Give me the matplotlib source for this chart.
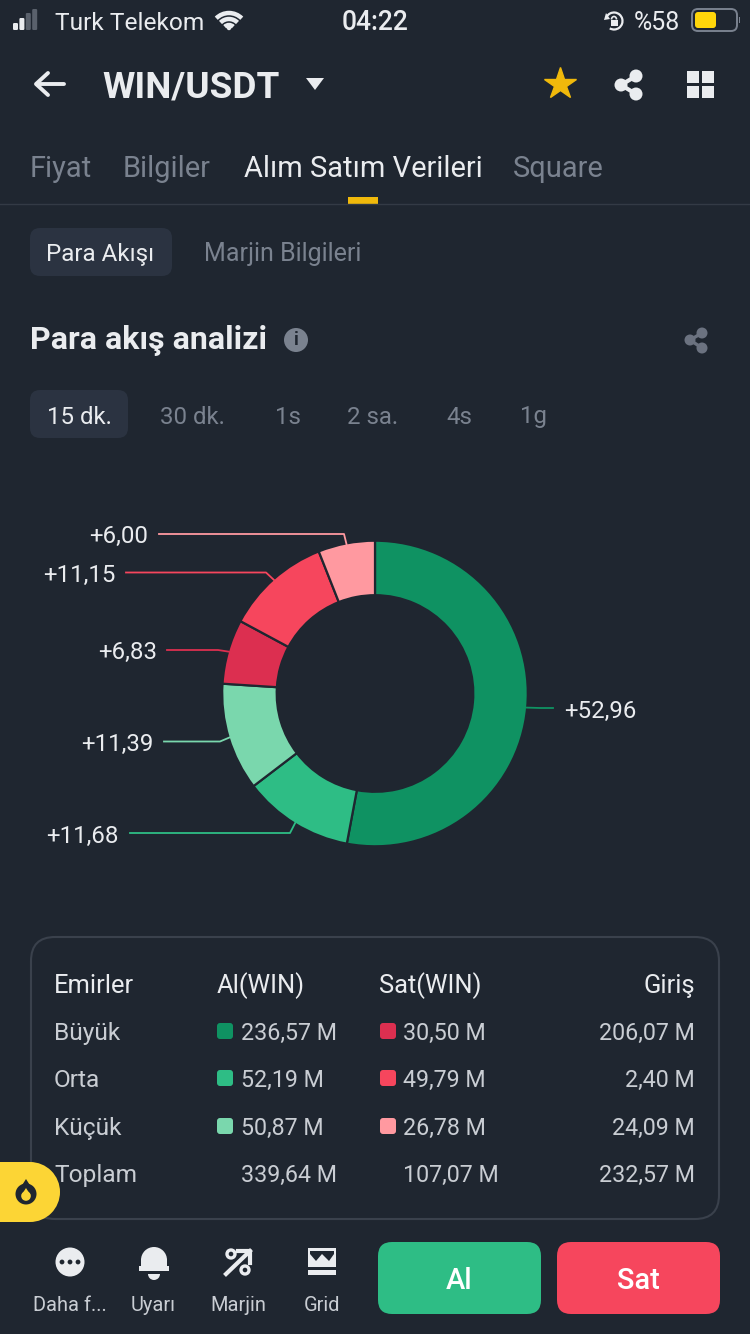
import matplotlib.pyplot as plt
import numpy as np
from matplotlib.patches import Circle, FancyBboxPatch, Polygon, Rectangle, Wedge, Arc

BG = "#1F2630"
WHITE = "#EAECEF"
GREY = "#7A828F"
YELLOW = "#FCD535"

flow_labels = ["+52,96", "+11,68", "+11,39", "+6,83", "+11,15", "+6,00"]
flow_values = [52.96, 11.68, 11.39, 6.83, 11.15, 6.00]
flow_colors = ["#0F9262", "#2EBD85", "#7AD7AD", "#DC2F50", "#F6465D", "#FF99A0"]

# leader line layout: elbow x, end x, line y, label right edge (pixels)
leader_elbow = [540, 290, 220, 218, 266, 344]
leader_end = [553, 130, 164, 167, 126, 159]
leader_y = [708, 833, 741.5, 650, 572.5, 534]
label_x = [564, 119, 154, 157, 116, 148]
label_base = [718, 843, 751, 659, 582, 543]

tabs = ["Fiyat", "Bilgiler", "Alım Satım Verileri", "Square"]
tab_x = [30, 123, 244, 513]
periods = ["15 dk.", "30 dk.", "1s", "2 sa.", "4s", "1g"]
period_x = [47, 160, 275, 347, 446, 520]

table_head = ["Emirler", "Al(WIN)", "Sat(WIN)", "Giriş"]
row_names = ["Büyük", "Orta", "Küçük", "Toplam"]
buy_vals = ["236,57 M", "52,19 M", "50,87 M", "339,64 M"]
sell_vals = ["30,50 M", "49,79 M", "26,78 M", "107,07 M"]
net_vals = ["206,07 M", "2,40 M", "24,09 M", "232,57 M"]
row_base = [1040, 1087, 1135, 1182]
buy_swatch = ["#0F9262", "#2EBD85", "#7AD7AD"]
sell_swatch = ["#DC2F50", "#F6465D", "#FF99A0"]

nav_labels = ["Daha f...", "Uyarı", "Marjin", "Grid"]
nav_x = [70, 153, 238, 322]

plt.rcParams["font.family"] = ["Roboto", "DejaVu Sans"]

fig = plt.figure(figsize=(7.5, 13.34), dpi=100, facecolor=BG)
ax = fig.add_axes([0, 0, 1, 1])


def label(x, y, s, size, color=WHITE, ha="left", weight="normal"):
    # size is the em size in pixels
    ax.text(x, y, s, fontsize=size * 0.72, color=color, ha=ha, va="baseline", fontweight=weight)


def round_box(x, y, w, h, r, **kw):
    ax.add_patch(FancyBboxPatch((x + r, y + r), w - 2 * r, h - 2 * r,
                                boxstyle=f"round,pad={r},rounding_size={r}", **kw))


# donut
ax.pie(flow_values, colors=flow_colors, center=(375, 693.5), radius=152.8, startangle=-90,
       counterclock=True, wedgeprops=dict(width=54.5, edgecolor=BG, linewidth=1.6))
ax.set_xlim(0, 750)
ax.set_ylim(1334, 0)
ax.set_aspect("auto")
ax.axis("off")

# leader lines start on the ring at each slice's middle
total = sum(flow_values)
mids = (np.cumsum(flow_values) - np.array(flow_values) / 2) / total * 2 * np.pi
for i, m in enumerate(mids):
    sx = 375 + 152 * np.sin(m)
    sy = 693.5 - 152 * np.cos(m)
    ax.plot([sx, leader_elbow[i], leader_end[i]], [sy, leader_y[i], leader_y[i]],
            color=flow_colors[i], lw=1.3, solid_joinstyle="round")
    label(label_x[i], label_base[i], flow_labels[i], 24, ha="left" if i == 0 else "right")

# status bar
for i, (h, c) in enumerate(zip([7, 12, 17, 21], [WHITE, WHITE, "#5A616C", "#5A616C"])):
    round_box(13 + i * 6.4, 30 - h, 5, h, 1.2, fc=c, ec="none")
label(55, 30, "Turk Telekom", 24.5, WHITE)
label(375.5, 30, "04:22", 26.5, WHITE, ha="center", weight="medium")
for r in (6, 12, 18):
    ax.add_patch(Arc((229, 31), r * 2, r * 2, theta1=225, theta2=315, color=WHITE, lw=3.2))
ax.add_patch(Circle((229, 28), 2.2, color=WHITE, lw=0))
ax.add_patch(Arc((614, 21), 17, 17, theta1=-150, theta2=120, color=WHITE, lw=1.6))
ax.add_patch(Polygon([(606, 13), (610, 19), (604, 20)], color=WHITE, lw=0))
ax.add_patch(Rectangle((610.5, 20), 7, 5.5, color=WHITE, lw=0))
ax.add_patch(Arc((614, 19.5), 5, 6, theta1=180, theta2=360, color=WHITE, lw=1.2))
label(634, 30, "%58", 25, WHITE)
round_box(692, 9, 45, 22, 6, fc="none", ec="#7A828F", lw=1.4)
round_box(695, 12, 21, 16, 3, fc="#FFD60A", ec="none")
ax.add_patch(Rectangle((738.5, 17), 1.5, 6, color="#7A828F", lw=0))

# header
ax.plot([37, 64], [84, 84], color=WHITE, lw=2.8, solid_capstyle="round")
ax.plot([48, 36, 48], [73, 84, 95], color=WHITE, lw=2.8, solid_capstyle="round", solid_joinstyle="round")
label(102, 98, "WIN/USDT", 37, WHITE, weight="bold")
ax.add_patch(Polygon([(306, 78), (324, 78), (315, 90)], color=WHITE, lw=0))
ax.plot([560], [84], marker="*", ms=24, color="#F0B90B", mew=1, mec="#F0B90B", ls="none")
sh = [(636, 76), (621, 85), (636, 94)]
ax.plot(*zip(*sh), color=WHITE, lw=3)
for p in sh:
    ax.add_patch(Circle(p, 6.5, color=WHITE, lw=0))
for x in (687, 702):
    for y in (71, 86):
        ax.add_patch(Rectangle((x, y), 11.5, 11.5, color=WHITE, lw=0))

# tabs
for i, (t, x) in enumerate(zip(tabs, tab_x)):
    label(x, 177, t, 29, WHITE if i == 2 else GREY)
ax.add_patch(Rectangle((348, 197), 30, 6.5, color="#F0B90B", lw=0))
ax.plot([0, 750], [203.5, 203.5], color="#333A45", lw=1)

# sub tabs
round_box(30, 228, 142, 48, 10, fc="#2B3341", ec="none")
label(46, 261, "Para Akışı", 24.3, WHITE)
label(204, 261, "Marjin Bilgileri", 25, GREY)

label(30, 349, "Para akış analizi", 32, WHITE, weight="bold")
ax.add_patch(Circle((296, 340), 12, color="#7A828F", lw=0))
ax.text(296, 340, "i", fontsize=13, color=BG, ha="center", va="center", fontweight="bold")
sh2 = [(702, 333), (690, 340), (702, 348)]
ax.plot(*zip(*sh2), color="#6B7280", lw=2.4)
for p in sh2:
    ax.add_patch(Circle(p, 5.5, color="#6B7280", lw=0))

# period buttons
round_box(30, 390, 98, 48, 10, fc="#2B3341", ec="none")
for i, (p, x) in enumerate(zip(periods, period_x)):
    label(x, 423.5, p, 24, WHITE if i == 0 else GREY)

# table
round_box(31, 937, 688, 282, 24, fc="none", ec="#3A414C", lw=1.5)
label(54, 993, table_head[0], 25.5, WHITE)
label(217, 993, table_head[1], 25.5, WHITE)
label(379, 993, table_head[2], 25.5, WHITE)
label(695, 993, table_head[3], 25.5, WHITE, ha="right")
for i, name in enumerate(row_names):
    y = row_base[i]
    label(54, y, name, 24.5, "#C9CDD3")
    label(241, y, buy_vals[i], 23.3, "#C9CDD3")
    label(403, y, sell_vals[i], 23.3, "#C9CDD3")
    label(695, y, net_vals[i], 23.3, "#C9CDD3", ha="right")
    if i < 3:
        round_box(217, y - 17, 16, 16, 3, fc=buy_swatch[i], ec="none")
        round_box(380, y - 17, 16, 16, 3, fc=sell_swatch[i], ec="none")

# floating badge
ax.add_patch(Rectangle((0, 1162), 30, 60, color=YELLOW, lw=0))
ax.add_patch(Circle((30, 1192), 30, color=YELLOW, lw=0))
ax.add_patch(Polygon([(26, 1179), (19, 1190), (33, 1190)], fc=BG, lw=0))
ax.add_patch(Circle((26, 1194), 10.5, fc=BG, lw=0))
ax.add_patch(Polygon([(26, 1188), (21.5, 1195), (30.5, 1195)], fc=YELLOW, lw=0))
ax.add_patch(Circle((26, 1196), 4.8, fc=YELLOW, lw=0))

# bottom nav
for name, x in zip(nav_labels, nav_x):
    ax.text(x, 1311, name, fontsize=20 * 0.72, color="#C9CDD3", ha="center", va="baseline")
ax.add_patch(Circle((70, 1262), 14.5, color=WHITE, lw=0))
for dx in (-8, 0, 8):
    ax.add_patch(Circle((70 + dx, 1262), 2.4, color=BG, lw=0))
ax.add_patch(Wedge((154, 1260), 13, 180, 360, color=WHITE, lw=0))
ax.add_patch(Rectangle((141, 1259), 26, 9, color=WHITE, lw=0))
ax.add_patch(Rectangle((139, 1266), 30, 5, color=WHITE, lw=0))
ax.add_patch(Wedge((154, 1274), 6, 0, 180, color=WHITE, lw=0))
ax.plot([226, 250], [1274, 1251], color=WHITE, lw=3)
ax.plot([238, 250, 250], [1251, 1251, 1263], color=WHITE, lw=3)
ax.add_patch(Circle((231, 1254), 4, fc=BG, ec=WHITE, lw=2.4))
ax.add_patch(Circle((245, 1270), 4, fc=BG, ec=WHITE, lw=2.4))
# grid icon
ax.add_patch(Rectangle((308, 1248), 28, 19, color=WHITE, lw=0))
ax.add_patch(Polygon([(310, 1251), (334, 1251), (334, 1254), (329, 1261), (322, 1254), (316, 1261), (310, 1254)],
                     color=BG, lw=0))
ax.add_patch(Rectangle((308, 1270), 28, 5, color=WHITE, lw=0))

# buy / sell buttons
round_box(378, 1242, 163, 72, 14, fc="#2EBD85", ec="none")
round_box(557, 1242, 163, 72, 14, fc="#F6465D", ec="none")
label(459.5, 1289, "Al", 29, "#FFFFFF", ha="center", weight="medium")
label(638.5, 1289, "Sat", 29, "#FFFFFF", ha="center", weight="medium")

fig.savefig("out.png", dpi=100, facecolor=BG)
plt.close(fig)
